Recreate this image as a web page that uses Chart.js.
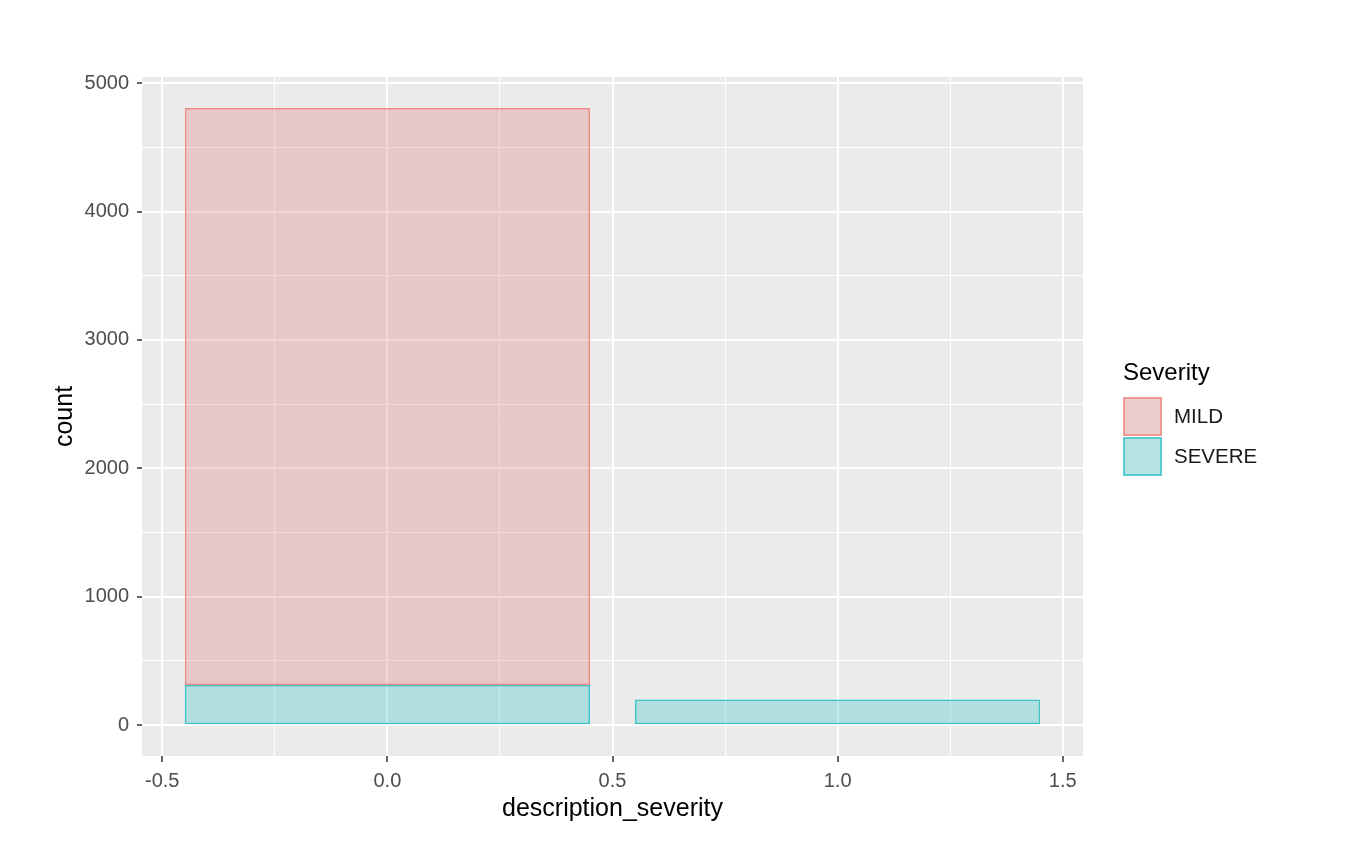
<!DOCTYPE html>
<html>
<head>
<meta charset="utf-8">
<script src="https://cdn.jsdelivr.net/npm/chart.js@4.4.1/dist/chart.umd.min.js"></script>
<style>
  html, body { margin: 0; padding: 0; background: #ffffff; }
  #chart { display: block; }
</style>
</head>
<body>
<canvas id="chart" width="1368" height="846"></canvas>
<script>
// data
const severityLevels = ['MILD', 'SEVERE'];
const descriptionSeverity = [0, 1];
const mildCounts = [4495, null];
const severeCounts = [312, 200];

const xMajorTicks = [-0.5, 0, 0.5, 1, 1.5];
const xMinorTicks = [-0.25, 0.25, 0.75, 1.25];
const yMajorTicks = [0, 1000, 2000, 3000, 4000, 5000];
const yMinorTicks = [500, 1500, 2500, 3500, 4500];

const fillColours = ['rgba(225,118,115,0.3)', 'rgba(45,192,195,0.3)'];
const lineColours = ['#F08A83', '#3EC3C7'];

const FONT = '"Liberation Sans", Arial, sans-serif';

function toPoints(counts) {
  const pts = [];
  counts.forEach((c, i) => {
    if (c !== null) pts.push({ x: descriptionSeverity[i], y: c });
  });
  return pts;
}

function tickList(major, minor) {
  return major.concat(minor).sort((a, b) => a - b).map(v => ({ value: v }));
}

function isMajor(list, v) {
  return list.some(m => Math.abs(m - v) < 1e-9);
}

function tickIsMajor(list, c) {
  return !!(c && c.tick && isMajor(list, c.tick.value));
}

// grey panel behind the grid
const panelBackground = {
  id: 'panelBackground',
  beforeDraw(chart) {
    const { ctx, chartArea } = chart;
    ctx.save();
    ctx.fillStyle = '#ffffff';
    ctx.fillRect(0, 0, chart.width, chart.height);
    ctx.fillStyle = '#EBEBEB';
    ctx.fillRect(chartArea.left, chartArea.top,
      chartArea.right - chartArea.left, chartArea.bottom - chartArea.top);
    ctx.restore();
  }
};

// ggplot style legend on the right
const severityLegend = {
  id: 'severityLegend',
  afterDraw(chart) {
    const ctx = chart.ctx;
    const left = 1123, top = 397, size = 39;
    ctx.save();
    ctx.fillStyle = '#000000';
    ctx.font = '24px ' + FONT;
    ctx.textAlign = 'left';
    ctx.textBaseline = 'alphabetic';
    ctx.fillText('Severity', left, 380);

    severityLevels.forEach((name, i) => {
      const y = top + i * (size + 1);
      ctx.fillStyle = '#F2F2F2';
      ctx.fillRect(left, y, size, size);
      ctx.fillStyle = fillColours[i];
      ctx.fillRect(left, y, size, size);
      ctx.strokeStyle = lineColours[i];
      ctx.lineWidth = 1.5;
      ctx.strokeRect(left + 1, y + 1, size - 2, size - 2);
      ctx.fillStyle = '#1A1A1A';
      ctx.font = '20.5px ' + FONT;
      ctx.textBaseline = 'middle';
      ctx.fillText(name, 1174, y + size / 2 + 1);
    });
    ctx.restore();
  }
};

const ctx = document.getElementById('chart');

new Chart(ctx, {
  type: 'bar',
  data: {
    datasets: [
      {
        label: severityLevels[1],
        data: toPoints(severeCounts),
        xAxisID: 'xb',
        backgroundColor: fillColours[1],
        borderColor: lineColours[1],
        borderWidth: 1.5,
        borderSkipped: false
      },
      {
        label: severityLevels[0],
        data: toPoints(mildCounts),
        xAxisID: 'xb',
        backgroundColor: fillColours[0],
        borderColor: lineColours[0],
        borderWidth: 1.5,
        borderSkipped: false
      }
    ]
  },
  options: {
    responsive: false,
    animation: false,
    devicePixelRatio: 1,
    barPercentage: 0.9,
    categoryPercentage: 1,
    layout: { padding: { left: 0, right: 285, top: 77, bottom: 0 } },
    plugins: {
      legend: { display: false },
      tooltip: { enabled: false }
    },
    scales: {
      xb: {
        type: 'linear',
        position: 'bottom',
        display: false,
        stacked: true,
        offset: false,
        min: -0.545,
        max: 1.545,
        grid: { display: false, offset: false },
        afterBuildTicks: s => { s.ticks = [{ value: 0 }]; }
      },
      x: {
        type: 'linear',
        position: 'bottom',
        offset: false,
        min: -0.545,
        max: 1.545,
        afterBuildTicks: s => { s.ticks = tickList(xMajorTicks, xMinorTicks); },
        afterFit: s => { s.height = 90; },
        border: { display: false },
        grid: {
          offset: false,
          color: '#ffffff',
          lineWidth: c => tickIsMajor(xMajorTicks, c) ? 2 : 1,
          tickColor: c => tickIsMajor(xMajorTicks, c) ? '#333333' : 'rgba(0,0,0,0)',
          tickWidth: 1.5,
          tickLength: 6
        },
        ticks: {
          autoSkip: false,
          maxRotation: 0,
          padding: 7,
          color: '#4D4D4D',
          font: { family: FONT, size: 20 },
          callback: v => isMajor(xMajorTicks, v) ? v.toFixed(1) : ''
        },
        title: {
          display: true,
          text: 'description_severity',
          color: '#000000',
          font: { family: FONT, size: 25 },
          padding: { top: 0, bottom: 22 }
        }
      },
      y: {
        type: 'linear',
        stacked: true,
        min: -240,
        max: 5048,
        afterBuildTicks: s => { s.ticks = tickList(yMajorTicks, yMinorTicks); },
        afterFit: s => { s.width = 142; },
        border: { display: false },
        grid: {
          color: '#ffffff',
          lineWidth: c => tickIsMajor(yMajorTicks, c) ? 2 : 1,
          tickColor: c => tickIsMajor(yMajorTicks, c) ? '#333333' : 'rgba(0,0,0,0)',
          tickWidth: 1.5,
          tickLength: 5
        },
        ticks: {
          autoSkip: false,
          padding: 8,
          color: '#4D4D4D',
          font: { family: FONT, size: 20 },
          callback: v => isMajor(yMajorTicks, v) ? String(v) : ''
        },
        title: {
          display: true,
          text: 'count',
          color: '#000000',
          font: { family: FONT, size: 25 },
          padding: { top: 50, bottom: 0 }
        }
      }
    }
  },
  plugins: [panelBackground, severityLegend]
});
</script>
</body>
</html>
